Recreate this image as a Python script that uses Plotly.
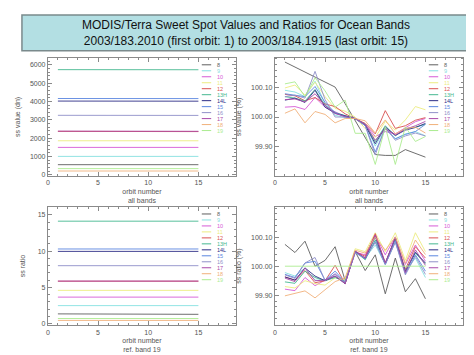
import plotly.graph_objects as go

orbits = list(range(1, 16))
bands = ["8", "9", "10", "11", "12", "13H", "14L", "15", "16", "17", "18", "19"]
colors = ["#5e5e5e", "#86e0e0", "#d65ad6", "#ecec80", "#d85050", "#45b890",
          "#2c2c86", "#5a86e0", "#9090c8", "#a848a8", "#f0b07a", "#abec90"]

# percent-axis tick labels
pct_ticks = [99.90, 100.00, 100.10]

# ss value (dn), all bands
value_dn = {
    "8":   [560, 560, 560, 560, 560, 560, 560, 560, 560, 560, 560, 560, 560, 560, 560],
    "9":   [1010, 1010, 1010, 1010, 1010, 1010, 1010, 1010, 1010, 1010, 1010, 1010, 1010, 1010, 1010],
    "10":  [1500, 1500, 1500, 1500, 1500, 1500, 1500, 1500, 1500, 1500, 1500, 1500, 1500, 1500, 1500],
    "11":  [1860, 1860, 1860, 1860, 1860, 1860, 1860, 1860, 1860, 1860, 1860, 1860, 1860, 1860, 1860],
    "12":  [2370, 2370, 2370, 2370, 2370, 2370, 2365, 2365, 2365, 2360, 2360, 2360, 2360, 2360, 2360],
    "13H": [5730, 5730, 5735, 5735, 5730, 5730, 5730, 5730, 5730, 5725, 5725, 5725, 5725, 5725, 5725],
    "14L": [4020, 4020, 4020, 4020, 4020, 4020, 4020, 4020, 4020, 4015, 4015, 4015, 4015, 4015, 4015],
    "15":  [4160, 4160, 4160, 4160, 4160, 4160, 4160, 4160, 4160, 4155, 4155, 4155, 4155, 4155, 4155],
    "16":  [3245, 3245, 3245, 3245, 3245, 3245, 3245, 3245, 3245, 3240, 3240, 3240, 3240, 3240, 3240],
    "17":  [2385, 2385, 2385, 2385, 2385, 2385, 2380, 2380, 2380, 2375, 2375, 2375, 2375, 2375, 2375],
    "18":  [215, 215, 215, 215, 215, 215, 215, 215, 215, 215, 215, 215, 215, 215, 215],
    "19":  [345, 345, 345, 345, 345, 345, 345, 345, 345, 345, 345, 345, 345, 345, 345],
}

# ss value (%), all bands
value_pct = {
    "8":   [100.189, 100.172, 100.155, 100.137, 100.120, 100.103, 100.046, 99.989, 99.928, 99.871, 99.868, 99.868, 99.888, 99.876, 99.862],
    "9":   [100.092, 100.086, 100.070, 100.123, 100.045, 100.006, 99.998, 99.994, 99.975, 99.900, 99.962, 99.925, 99.942, 99.950, 99.935],
    "10":  [100.034, 100.036, 100.026, 100.067, 100.034, 100.017, 100.002, 99.995, 99.975, 99.933, 99.950, 99.942, 99.964, 99.984, 99.995],
    "11":  [100.100, 100.110, 100.075, 100.120, 100.070, 100.030, 100.020, 100.000, 99.960, 99.930, 99.985, 99.955, 99.990, 100.036, 100.025],
    "12":  [100.078, 100.073, 100.056, 100.067, 100.045, 100.036, 100.011, 99.995, 99.978, 99.942, 100.022, 99.961, 99.970, 99.989, 99.998],
    "13H": [100.070, 100.065, 100.055, 100.095, 100.040, 100.015, 100.005, 99.995, 99.975, 99.915, 99.970, 99.935, 99.960, 99.965, 99.975],
    "14L": [100.058, 100.065, 100.050, 100.092, 100.034, 100.013, 100.004, 99.994, 99.972, 99.908, 99.966, 99.937, 99.955, 99.964, 99.978],
    "15":  [100.080, 100.075, 100.070, 100.105, 100.050, 100.015, 100.000, 99.995, 99.970, 99.880, 99.960, 99.925, 99.940, 99.950, 99.975],
    "16":  [100.070, 100.075, 100.065, 100.157, 100.060, 100.000, 100.000, 99.995, 99.970, 99.870, 99.965, 99.920, 99.935, 99.945, 99.935],
    "17":  [100.060, 100.062, 100.052, 100.080, 100.040, 100.012, 100.002, 99.995, 99.975, 99.920, 99.960, 99.938, 99.958, 99.970, 99.985],
    "18":  [100.013, 100.028, 99.980, 100.019, 100.009, 99.980, 99.995, 99.995, 99.987, 99.945, 99.990, 99.942, 99.961, 99.965, 99.945],
    "19":  [100.114, 100.121, 100.070, 100.135, 100.090, 100.034, 100.058, 99.944, 99.944, 99.837, 99.966, 99.837, 99.966, 99.916, 99.933],
}

# ss ratio, ref. band 19
ratio = {
    "8":   [1.36, 1.36, 1.36, 1.36, 1.36, 1.36, 1.36, 1.36, 1.36, 1.36, 1.32, 1.32, 1.32, 1.32, 1.30],
    "9":   [2.50, 2.50, 2.50, 2.50, 2.50, 2.50, 2.50, 2.50, 2.50, 2.50, 2.50, 2.50, 2.50, 2.50, 2.50],
    "10":  [3.67, 3.67, 3.67, 3.67, 3.67, 3.67, 3.67, 3.67, 3.67, 3.67, 3.67, 3.67, 3.67, 3.67, 3.67],
    "11":  [4.60, 4.60, 4.60, 4.60, 4.60, 4.60, 4.60, 4.60, 4.60, 4.60, 4.60, 4.60, 4.60, 4.60, 4.60],
    "12":  [5.86, 5.86, 5.86, 5.86, 5.86, 5.86, 5.86, 5.86, 5.86, 5.86, 5.86, 5.86, 5.86, 5.86, 5.86],
    "13H": [14.13, 14.13, 14.13, 14.13, 14.13, 14.13, 14.13, 14.13, 14.13, 14.13, 14.13, 14.13, 14.13, 14.13, 14.13],
    "14L": [9.97, 9.97, 9.97, 9.97, 9.97, 9.97, 9.97, 9.97, 9.97, 9.97, 9.97, 9.97, 9.97, 9.97, 9.97],
    "15":  [10.30, 10.30, 10.30, 10.30, 10.30, 10.30, 10.30, 10.30, 10.30, 10.30, 10.30, 10.30, 10.30, 10.30, 10.30],
    "16":  [8.00, 8.00, 8.00, 8.00, 8.00, 8.00, 8.00, 8.00, 8.00, 8.00, 8.00, 8.00, 8.00, 8.00, 8.00],
    "17":  [5.88, 5.88, 5.88, 5.88, 5.88, 5.88, 5.88, 5.88, 5.88, 5.88, 5.88, 5.88, 5.88, 5.88, 5.88],
    "18":  [0.46, 0.46, 0.46, 0.46, 0.46, 0.46, 0.46, 0.46, 0.46, 0.46, 0.46, 0.46, 0.46, 0.46, 0.46],
    "19":  [0.72, 0.72, 0.72, 0.72, 0.72, 0.72, 0.72, 0.72, 0.72, 0.72, 0.72, 0.72, 0.72, 0.72, 0.72],
}

# ss ratio (%), ref. band 19
ratio_pct = {
    "8":   [100.075, 100.047, 100.086, 100.000, 100.020, 100.067, 99.950, 100.050, 99.985, 100.039, 99.905, 100.028, 99.912, 99.957, 99.888],
    "9":   [99.978, 99.966, 99.994, 99.952, 99.952, 99.972, 99.944, 100.048, 100.028, 100.073, 100.006, 100.084, 99.983, 100.028, 99.961],
    "10":  [99.921, 99.916, 99.961, 99.933, 99.952, 99.973, 99.944, 100.048, 100.039, 100.107, 100.039, 100.101, 100.006, 100.073, 100.017],
    "11":  [99.930, 99.925, 99.950, 99.940, 99.935, 99.960, 99.955, 100.060, 100.050, 100.115, 100.050, 100.115, 100.020, 100.115, 100.050],
    "12":  [99.963, 99.952, 99.985, 99.943, 99.950, 100.003, 99.940, 100.050, 100.034, 100.112, 100.011, 100.098, 99.989, 100.067, 100.028],
    "13H": [99.946, 99.941, 99.983, 99.961, 99.950, 99.961, 99.947, 100.050, 100.022, 100.090, 100.011, 100.093, 99.985, 100.045, 100.008],
    "14L": [99.963, 99.952, 99.994, 99.966, 99.950, 99.966, 99.940, 100.052, 100.026, 100.101, 100.008, 100.098, 99.981, 100.048, 100.011],
    "15":  [99.972, 99.961, 100.011, 100.017, 99.952, 99.983, 99.944, 100.048, 100.026, 100.084, 100.006, 100.086, 99.974, 100.039, 99.983],
    "16":  [99.970, 99.958, 100.011, 100.030, 99.950, 99.974, 99.944, 100.045, 100.028, 100.082, 100.006, 100.082, 99.970, 100.034, 99.972],
    "17":  [99.959, 99.947, 99.994, 99.950, 99.952, 99.966, 99.940, 100.052, 100.028, 100.107, 100.011, 100.098, 99.978, 100.056, 100.003],
    "18":  [99.898, 99.906, 99.915, 99.891, 99.920, 99.947, 99.960, 100.055, 100.045, 100.100, 100.055, 100.100, 100.010, 100.090, 100.040],
    "19":  [100.000, 100.000, 100.000, 100.000, 100.000, 100.000, 100.000, 100.000, 100.000, 100.000, 100.000, 100.000, 100.000, 100.000, 100.000],
}

title_lines = ["MODIS/Terra Sweet Spot Values and Ratios for Ocean Bands",
               "2003/183.2010 (first orbit: 1) to 2003/184.1915 (last orbit: 15)"]

panels = [
    dict(data=value_dn, xa="x", ya="y", ytitle="ss value (dn)", xtitle="orbit number<br>all bands"),
    dict(data=value_pct, xa="x2", ya="y2", ytitle="ss value (%)", xtitle="orbit number<br>all bands"),
    dict(data=ratio, xa="x3", ya="y3", ytitle="ss ratio", xtitle="orbit number<br>ref. band 19"),
    dict(data=ratio_pct, xa="x4", ya="y4", ytitle="ss ratio (%)", xtitle="orbit number<br>ref. band 19"),
]

FONT = "Liberation Sans"
AX = "#8a8a8a"
TXT = "#555555"

fig = go.Figure()
annotations = []
shapes = []

for p in panels:
    for b, c in zip(bands, colors):
        fig.add_trace(go.Scatter(x=orbits, y=p["data"][b], mode="lines",
                                 line=dict(color=c, width=0.9),
                                 xaxis=p["xa"], yaxis=p["ya"], showlegend=False,
                                 name=b))
    for i, (b, c) in enumerate(zip(bands, colors)):
        yy = 0.94 - i * 0.0505
        shapes.append(dict(type="line", xref=p["xa"] + " domain", yref=p["ya"] + " domain",
                           x0=0.818, x1=0.868, y0=yy, y1=yy,
                           line=dict(color=c, width=1)))
        annotations.append(dict(xref=p["xa"] + " domain", yref=p["ya"] + " domain",
                                x=0.892, y=yy, text=b, showarrow=False,
                                xanchor="left", yanchor="middle", borderpad=0,
                                font=dict(family=FONT, size=5.5, color=c)))

def xaxis_cfg(domain, anchor, title):
    return dict(domain=domain, anchor=anchor, range=[0, 18.75], tick0=0, dtick=5,
                showline=True, linecolor=AX, linewidth=1, mirror="allticks",
                ticks="inside", ticklen=4, tickcolor=AX, showgrid=False, zeroline=False,
                tickfont=dict(family=FONT, size=7, color=TXT),
                minor=dict(ticks="inside", ticklen=2, dtick=1, tickcolor=AX, showgrid=False),
                title=dict(text=title, font=dict(family=FONT, size=7, color=TXT), standoff=3))

def yaxis_cfg(domain, anchor, title, rng, dtick, mdtick, fmt=None, standoff=6, tickvals=None):
    d = dict(domain=domain, anchor=anchor, range=rng, dtick=dtick,
             showline=True, linecolor=AX, linewidth=1, mirror="allticks",
             ticks="inside", ticklen=4, tickcolor=AX, showgrid=False, zeroline=False,
             tickfont=dict(family=FONT, size=7, color=TXT),
             minor=dict(ticks="inside", ticklen=2, dtick=mdtick, tickcolor=AX, showgrid=False),
             title=dict(text=title, font=dict(family=FONT, size=7, color=TXT), standoff=standoff))
    if fmt:
        d["tickformat"] = fmt
    if tickvals:
        d["tickmode"] = "array"
        d["tickvals"] = tickvals
    return d

XL = [0.0802, 0.4789]
XR = [0.5612, 0.9599]
YT = [0.5239, 0.8592]
YB = [0.1014, 0.4366]

fig.update_layout(
    width=474, height=355,
    margin=dict(l=0, r=0, t=0, b=0),
    paper_bgcolor="white", plot_bgcolor="white",
    xaxis=xaxis_cfg(XL, "y", panels[0]["xtitle"]),
    yaxis=yaxis_cfg(YT, "x", panels[0]["ytitle"], [-60, 6380], 1000, 200, standoff=8),
    xaxis2=xaxis_cfg(XR, "y2", panels[1]["xtitle"]),
    yaxis2=yaxis_cfg(YT, "x2", panels[1]["ytitle"], [99.797, 100.204], 0.1, 0.02, ".2f",
                     standoff=8, tickvals=pct_ticks),
    xaxis3=xaxis_cfg(XL, "y3", panels[2]["xtitle"]),
    yaxis3=yaxis_cfg(YB, "x3", panels[2]["ytitle"], [-0.2, 16.1], 5, 1, standoff=11),
    xaxis4=xaxis_cfg(XR, "y4", panels[3]["xtitle"]),
    yaxis4=yaxis_cfg(YB, "x4", panels[3]["ytitle"], [99.797, 100.204], 0.1, 0.02, ".2f",
                     standoff=8, tickvals=pct_ticks),
)

shapes.append(dict(type="rect", xref="paper", yref="paper",
                   x0=0.0253, x1=0.9768, y0=0.8789, y1=0.9803,
                   fillcolor="#b3dfe3", line=dict(color="#7a8a8c", width=1.5), layer="below"))
annotations.append(dict(xref="paper", yref="paper", x=0.5, y=0.9296,
                        text="<br>".join(title_lines), showarrow=False,
                        xanchor="center", yanchor="middle",
                        font=dict(family=FONT, size=12, color="#111111")))

fig.update_layout(shapes=shapes, annotations=annotations)
fig.write_html("out.html")
